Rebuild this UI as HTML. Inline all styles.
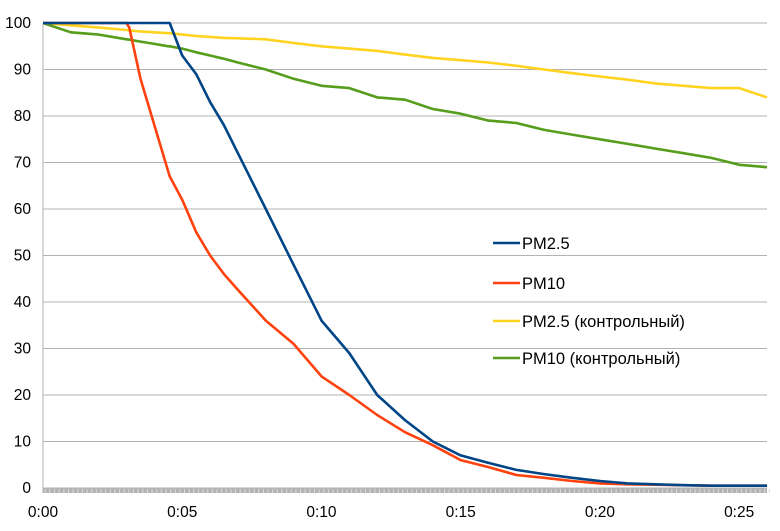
<!DOCTYPE html>
<html><head><meta charset="utf-8">
<style>
html,body{margin:0;padding:0;background:#fff;}
svg{display:block;font-family:"Liberation Sans",sans-serif;}
</style></head>
<body>
<svg id="chart" width="780" height="531"></svg>
<script>
const times = [0,1,2,3,3.1,3.5,4,4.5,4.55,5,5.5,6,6.5,7,8,9,10,11,12,13,14,15,16,17,18,19,20,21,22,23,24,25,26];
const pm25 = [100,100,100,100,100,100,100,100,100,93,89,83,78,72,60,48,36,29,20,14.6,10,7,5.4,3.9,3,2.2,1.5,1,0.8,0.6,0.5,0.5,0.5];
const pm10 = [100,100,100,100,99,88,78,68,67,62,55,50,46,42.6,36,31,24,20,15.7,12,9.2,6,4.5,2.8,2.2,1.5,1,0.8,0.7,0.6,0.5,0.5,0.5];
const pm25ctrl = [100,99.5,99,98.5,98.4,98.2,98,97.8,97.8,97.5,97.2,97,96.8,96.7,96.5,95.7,95,94.5,94,93.2,92.5,92,91.5,90.8,90,89.2,88.5,87.8,87,86.5,86,86,84];
const pm10ctrl = [100,98,97.5,96.5,96.4,96,95.5,95,95,94.5,93.7,93,92.3,91.5,90,88,86.5,86,84,83.5,81.5,80.5,79,78.5,77,76,75,74,73,72,71,69.5,69];
const yTicks = [0,10,20,30,40,50,60,70,80,90,100];
const xTicks = [0,5,10,15,20,25];
const xTickLabels = ["0:00","0:05","0:10","0:15","0:20","0:25"];
const seriesNames = ["PM2.5","PM10","PM2.5 (контрольный)","PM10 (контрольный)"];

const NS="http://www.w3.org/2000/svg";
const svg=document.getElementById('chart');
const X0=43,X1=767,Y0=488,Y1=23;
const xs=t=>X0+(t/26)*(X1-X0);
const ys=v=>Y0-(v/100)*(Y0-Y1);
function mk(tag,attrs){const e=document.createElementNS(NS,tag);for(const k in attrs)e.setAttribute(k,attrs[k]);svg.appendChild(e);return e;}

yTicks.forEach(v=>{
  const g=mk('line',{x1:X0,x2:X1,y1:ys(v),y2:ys(v),stroke:'#b3b3b3','stroke-width':1});
  
  
  const t=mk('text',{x:31,y:ys(v)+5,'text-anchor':'end','font-size':15.5,fill:'#000'});
  t.textContent=v;
  
  
});
const ax=mk('line',{x1:X0,x2:X0,y1:Y1,y2:Y0+5,stroke:'#b3b3b3','stroke-width':1});


const band=mk('rect',{x:X0,y:Y0,width:X1-X0,height:5,fill:'#b3b3b3'});


for(let s=0;s<=26*6;s++){
  const x=xs(s/6);
  const tk=mk('line',{x1:x+2.3,x2:x+2.3,y1:Y0+1,y2:Y0+5,stroke:'#dcdcdc','stroke-width':1});
  
  
}
xTicks.forEach((v,i)=>{
  const t=mk('text',{x:xs(v),y:517,'text-anchor':'middle','font-size':15.5,fill:'#000'});
  t.textContent=xTickLabels[i];
  
  
});

const colors=['#004586','#ff420e','#ffd320','#579d1c'];
const data=[pm25,pm10,pm25ctrl,pm10ctrl];
const drawOrder=[2,3,1,0];
drawOrder.forEach(i=>{
  const d=data[i].map((v,j)=>(j?'L':'M')+xs(times[j]).toFixed(1)+','+ys(v).toFixed(1)).join(' ');
  const p=mk('path',{d:d,fill:'none',stroke:colors[i],'stroke-width':2.6,'stroke-linejoin':'round'});
  
  
});

const legY=[243,283,321,358];
seriesNames.forEach((n,i)=>{
  const l=mk('line',{x1:493,x2:520,y1:legY[i],y2:legY[i],stroke:colors[i],'stroke-width':2.6});
  
  
  const t=mk('text',{x:522,y:legY[i]+6,'font-size':16.5,fill:'#000'});
  t.textContent=n;
  
  
});
</script>
</body></html>
